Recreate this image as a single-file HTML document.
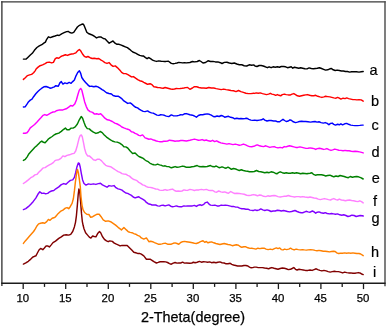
<!DOCTYPE html>
<html><head><meta charset="utf-8"><title>XRD</title>
<style>
html,body{margin:0;padding:0;background:#fff;}
svg{display:block;}
text{font-family:"Liberation Sans",Arial,sans-serif;fill:#000;}
</style></head><body>
<svg width="387" height="327" viewBox="0 0 387 327">
<rect x="0" y="0" width="387" height="327" fill="#ffffff"/>

<g stroke="#444444" stroke-width="1.45" fill="none">
<path d="M1.88 286 V1.2"/>
<path d="M1.2 1.85 H385.7" stroke="#383838"/>
<path d="M385.0 1.2 V286.2" stroke="#4e4e4e"/>
</g>
<g stroke="#1c1c1c" stroke-width="1.3" fill="none">
<path d="M1.2 283.35 H385.6" stroke-width="1.5"/>
<path d="M23.2 283.5 V289.1"/>
<path d="M65.7 283.5 V289.1"/>
<path d="M108.3 283.5 V289.1"/>
<path d="M150.8 283.5 V289.1"/>
<path d="M193.3 283.5 V289.1"/>
<path d="M235.9 283.5 V289.1"/>
<path d="M278.4 283.5 V289.1"/>
<path d="M320.9 283.5 V289.1"/>
<path d="M363.5 283.5 V289.1"/>
<path d="M44.5 283.5 V286.9"/>
<path d="M87.0 283.5 V286.9"/>
<path d="M129.5 283.5 V286.9"/>
<path d="M172.1 283.5 V286.9"/>
<path d="M214.6 283.5 V286.9"/>
<path d="M257.1 283.5 V286.9"/>
<path d="M299.7 283.5 V286.9"/>
<path d="M342.2 283.5 V286.9"/>
</g>
<text x="22.8" y="302.4" font-size="11.4" text-anchor="middle" stroke="#000" stroke-width="0.25">10</text>
<text x="65.3" y="302.4" font-size="11.4" text-anchor="middle" stroke="#000" stroke-width="0.25">15</text>
<text x="107.9" y="302.4" font-size="11.4" text-anchor="middle" stroke="#000" stroke-width="0.25">20</text>
<text x="150.4" y="302.4" font-size="11.4" text-anchor="middle" stroke="#000" stroke-width="0.25">25</text>
<text x="192.9" y="302.4" font-size="11.4" text-anchor="middle" stroke="#000" stroke-width="0.25">30</text>
<text x="235.5" y="302.4" font-size="11.4" text-anchor="middle" stroke="#000" stroke-width="0.25">35</text>
<text x="278.0" y="302.4" font-size="11.4" text-anchor="middle" stroke="#000" stroke-width="0.25">40</text>
<text x="320.5" y="302.4" font-size="11.4" text-anchor="middle" stroke="#000" stroke-width="0.25">45</text>
<text x="363.1" y="302.4" font-size="11.4" text-anchor="middle" stroke="#000" stroke-width="0.25">50</text>
<text x="193.0" y="322.2" font-size="14.4" text-anchor="middle" stroke="#000" stroke-width="0.25">2-Theta(degree)</text>
<polyline points="23.4,59.1 26.2,59.1 27.8,57.4 30.3,55.0 32.3,53.3 34.4,50.3 36.9,47.5 39.3,45.9 41.8,44.7 43.8,43.1 45.4,42.1 46.7,39.3 48.4,36.8 50.4,37.6 52.5,36.8 55.0,36.0 57.5,35.1 59.1,35.5 61.6,33.8 64.1,32.7 66.6,31.6 68.2,31.4 69.8,32.5 71.8,33.1 73.7,32.3 75.4,29.9 77.4,27.0 79.5,25.3 81.7,24.3 83.0,24.0 84.0,25.3 85.3,28.5 86.8,32.2 88.4,33.5 91.5,34.7 94.0,36.0 96.5,37.9 99.0,36.9 100.8,36.9 103.3,38.5 105.2,38.9 107.1,41.0 109.2,43.2 111.4,41.9 113.0,41.0 115.0,43.2 117.0,44.3 119.1,44.3 121.3,45.2 123.3,46.0 125.3,46.8 127.4,47.7 129.6,49.3 131.5,51.0 133.4,52.3 135.6,53.1 137.7,54.3 139.7,55.4 141.7,55.9 143.3,55.9 145.5,57.6 147.1,58.7 148.8,57.6 150.5,58.7 152.6,60.1 154.6,60.9 156.6,61.4 158.7,60.9 161.2,61.2 163.6,61.4 166.1,61.4 168.5,61.2 171.3,63.4 173.2,63.7 175.1,63.4 177.0,63.0 178.8,62.4 180.7,62.6 182.6,62.9 184.5,62.6 186.4,62.9 189.9,62.5 192.4,61.5 194.8,61.9 197.2,61.5 199.4,60.5 201.0,61.5 203.0,63.0 205.5,62.5 208.0,60.8 210.5,61.5 212.9,61.4 215.4,61.9 217.9,61.9 220.4,62.7 222.0,63.5 224.4,62.4 226.9,62.2 229.4,63.0 231.8,63.5 234.3,63.0 236.8,64.0 239.3,64.7 241.8,64.8 244.2,65.7 246.7,66.0 249.2,64.8 251.7,65.2 253.7,64.9 255.0,66.0 257.0,66.5 259.2,65.5 261.2,65.5 263.2,66.0 265.3,66.8 267.5,67.7 269.1,66.8 271.1,67.7 273.1,66.8 275.2,67.2 277.4,66.8 279.4,67.2 281.3,66.5 283.5,66.5 285.6,66.8 287.5,67.7 289.5,67.2 291.2,66.8 292.8,68.2 294.5,67.2 296.6,67.7 298.8,68.2 300.7,67.7 302.7,68.2 304.9,68.8 307.0,68.9 309.1,67.9 311.3,68.5 313.4,68.8 315.4,68.5 317.3,68.2 319.4,67.7 321.6,68.5 323.6,69.3 325.6,70.1 327.7,69.8 329.9,68.8 331.5,68.5 333.2,69.8 335.2,70.5 337.1,70.1 339.3,70.5 341.4,71.0 343.4,71.0 345.4,71.5 347.5,71.5 349.6,72.1 351.6,71.8 354.1,71.8 356.5,71.8 359.0,72.1 361.2,71.8 363.2,71.5" fill="none" stroke="#000000" stroke-width="1.45" stroke-linejoin="round" stroke-linecap="round"/>
<polyline points="23.4,79.4 25.3,77.7 27.5,75.6 29.6,74.9 31.6,74.4 33.6,72.8 35.3,70.6 36.1,69.0 37.8,67.4 40.1,65.7 42.6,64.9 45.1,63.6 47.1,62.4 49.2,62.1 51.7,62.9 53.4,62.4 55.3,58.6 56.7,57.8 58.8,58.2 60.9,56.5 62.9,55.7 65.4,54.8 67.5,55.4 69.5,54.5 71.6,54.0 73.7,53.7 75.9,52.8 77.8,50.6 79.4,49.5 81.0,51.3 82.5,54.0 84.3,56.3 86.0,57.2 87.9,56.5 90.1,57.7 92.2,58.5 94.2,58.2 96.7,58.8 98.8,58.5 100.7,59.8 102.7,61.0 104.9,62.6 107.0,63.4 109.0,62.6 111.0,64.8 113.1,66.4 115.3,65.9 117.3,67.6 119.7,70.1 120.6,71.1 121.6,72.4 123.6,73.6 125.8,73.6 127.9,74.6 129.9,75.8 131.5,76.9 133.4,76.6 135.6,78.2 137.7,79.6 139.7,80.7 141.7,81.2 143.8,82.4 146.0,83.5 147.6,84.3 150.1,83.7 152.0,84.7 153.9,86.7 155.7,87.0 157.6,87.5 159.5,87.6 161.4,88.0 163.2,88.2 165.1,87.5 167.0,88.0 168.8,88.5 170.7,89.0 172.6,89.3 174.5,89.0 176.3,88.5 178.2,88.6 180.1,88.5 182.0,88.3 183.9,88.0 185.7,87.6 187.6,87.5 189.9,89.3 192.4,88.0 194.4,86.7 196.7,86.7 198.9,87.5 201.4,88.0 203.8,88.0 206.3,88.3 208.8,87.5 211.3,88.0 213.8,88.0 216.2,88.6 218.7,89.1 221.2,89.6 223.7,89.1 226.1,89.6 228.5,90.0 231.0,90.5 233.5,90.8 236.0,91.6 238.5,90.5 240.9,91.6 243.4,92.4 245.9,93.3 248.4,93.6 250.9,93.6 253.7,93.3 254.7,93.4 256.2,92.9 258.2,93.3 260.3,92.9 262.5,93.6 264.5,94.1 266.5,94.6 268.6,94.1 270.3,93.3 271.9,94.1 274.1,94.6 275.7,95.3 277.4,94.6 279.0,95.3 280.7,95.8 282.3,94.6 284.3,94.1 286.2,94.6 288.3,94.9 290.5,94.9 292.1,94.1 293.8,93.6 295.5,94.6 297.4,95.8 299.4,96.3 301.6,95.8 303.7,95.3 305.7,94.9 307.5,94.6 309.6,95.3 311.8,95.8 313.8,95.8 315.7,95.3 317.8,96.3 319.9,96.9 321.9,97.4 323.9,96.9 325.6,96.3 327.7,96.6 329.9,96.9 331.8,97.4 333.8,97.9 336.0,98.2 337.6,97.4 339.3,98.2 340.9,99.1 343.1,98.2 345.1,98.6 346.7,97.9 348.6,98.6 350.8,99.1 352.9,99.6 354.9,99.6 356.9,99.9 359.0,99.6 361.2,99.9 363.2,101.2" fill="none" stroke="#ff0000" stroke-width="1.45" stroke-linejoin="round" stroke-linecap="round"/>
<polyline points="23.4,107.0 25.3,106.7 27.0,104.2 28.6,101.7 30.3,100.1 32.0,99.2 33.6,96.7 35.8,93.8 37.9,91.5 39.8,89.8 41.8,88.2 43.9,86.8 46.1,86.5 48.1,87.2 50.0,88.2 52.2,87.7 54.3,86.8 55.8,85.7 58.3,86.3 59.9,82.9 61.3,81.6 62.9,84.1 64.9,82.9 67.0,83.6 69.2,82.4 71.1,83.3 72.7,81.6 74.4,80.0 76.0,75.8 77.7,72.5 79.4,70.7 80.7,73.4 81.8,77.5 83.5,80.0 85.6,82.4 87.6,84.6 89.6,86.4 91.7,86.3 93.9,86.8 95.9,86.3 97.9,86.9 100.0,88.2 102.1,89.6 104.0,90.7 106.5,92.7 109.0,93.5 111.5,94.0 113.1,95.5 115.6,96.2 118.1,96.2 119.7,97.2 121.4,98.3 123.9,100.9 125.8,102.1 127.7,103.4 130.2,102.9 132.0,104.2 133.8,105.9 135.7,107.3 137.6,107.9 139.5,109.3 141.3,110.4 143.2,111.4 145.1,111.6 147.6,110.9 149.5,112.1 151.4,112.9 153.2,113.1 155.1,114.1 157.0,115.1 158.9,115.4 160.7,114.7 162.5,114.9 164.4,115.3 166.3,116.1 168.8,116.6 171.3,114.9 173.2,115.7 175.1,115.9 177.0,115.8 178.8,115.4 180.7,114.7 182.6,114.9 184.5,113.8 186.4,113.6 189.9,114.8 192.4,115.2 194.4,116.0 196.4,117.2 198.4,115.5 200.5,114.8 202.7,114.8 204.7,114.3 207.2,113.9 209.3,114.3 211.3,115.2 213.3,116.5 214.9,116.8 217.1,116.0 219.2,116.5 221.2,115.5 222.9,116.0 224.7,117.2 226.4,116.8 228.5,116.3 230.7,117.3 232.7,117.7 234.7,118.8 236.8,118.2 239.0,118.8 240.9,118.5 242.9,118.8 245.1,118.5 246.7,118.2 248.9,119.3 250.9,120.1 252.7,120.4 254.7,120.1 257.0,120.5 259.5,120.1 261.5,119.8 263.2,118.8 264.8,120.1 267.0,121.0 269.1,120.5 271.1,120.5 273.6,121.0 275.7,121.0 277.7,121.8 279.7,121.8 281.3,120.5 283.0,119.3 284.6,120.5 286.2,121.5 288.3,121.0 290.0,119.8 291.6,120.5 293.3,121.8 295.5,122.6 297.4,122.1 299.4,121.5 301.6,121.3 303.7,121.5 305.7,121.5 308.0,121.8 310.5,122.1 312.9,121.8 315.1,121.5 317.0,122.1 319.0,121.8 321.1,122.6 323.3,123.1 325.2,122.6 327.2,123.4 328.9,124.8 330.5,123.4 332.2,123.1 333.8,124.3 335.5,125.1 337.6,124.3 339.3,124.8 340.9,123.8 342.6,124.8 344.7,123.8 346.7,123.4 348.6,124.3 350.8,125.1 352.9,125.4 354.9,125.6 357.4,125.6 359.8,125.4 362.3,125.1 363.2,125.1" fill="none" stroke="#0000ff" stroke-width="1.45" stroke-linejoin="round" stroke-linecap="round"/>
<polyline points="23.4,133.2 25.3,133.2 27.0,132.8 28.6,130.7 30.3,127.9 32.4,126.2 34.6,124.5 36.8,122.2 38.8,120.0 40.9,117.8 43.1,115.3 44.7,114.6 46.7,115.3 48.9,114.1 51.0,112.9 53.0,112.0 55.0,111.8 56.3,110.7 59.6,109.9 62.9,109.9 66.2,108.8 68.7,107.1 70.7,105.5 72.7,106.1 74.7,104.1 76.4,100.0 78.0,94.2 79.3,90.1 80.7,88.4 81.8,90.1 83.0,95.0 84.6,101.7 86.3,106.6 87.9,109.9 90.1,111.6 92.6,112.4 94.5,114.1 96.7,113.7 98.8,114.4 100.7,113.7 102.7,115.7 104.9,118.2 107.3,119.8 109.8,120.3 112.3,121.5 114.8,123.1 117.3,124.0 119.7,125.3 121.8,127.0 123.9,127.9 125.8,128.6 127.7,129.2 129.5,129.9 131.4,131.7 133.2,132.1 135.1,133.4 137.0,134.1 138.8,135.4 140.7,135.7 142.6,134.9 145.1,137.9 147.0,138.5 148.9,139.2 150.7,138.9 152.6,139.7 154.5,140.3 156.4,141.0 158.2,141.4 160.1,141.7 162.0,141.7 163.8,141.2 165.7,141.2 167.6,141.0 169.5,140.2 171.3,140.5 173.2,140.8 175.1,141.2 177.0,140.9 178.8,141.0 180.7,140.5 182.6,140.5 184.5,140.7 186.4,141.0 189.9,140.3 192.4,139.6 194.4,139.1 196.4,139.6 198.4,140.3 200.5,140.0 202.2,139.6 204.3,140.5 206.3,140.0 208.3,140.8 210.5,141.3 212.6,140.3 214.6,141.6 216.6,140.8 218.7,142.0 220.9,142.9 222.9,143.3 224.7,143.6 226.9,144.1 229.0,143.6 231.0,144.1 233.0,144.6 235.2,144.1 237.3,144.6 239.3,145.3 241.3,144.9 243.4,144.1 245.6,144.9 247.6,145.8 249.5,146.6 251.7,146.7 253.8,146.3 255.9,145.3 257.5,144.9 259.5,145.8 261.5,146.3 263.6,146.6 265.8,145.8 267.8,146.6 269.8,147.4 271.9,146.9 274.1,146.6 276.0,147.4 278.0,147.9 280.2,147.4 282.3,147.9 284.3,146.6 286.0,146.9 287.8,146.3 289.5,145.8 291.6,146.3 293.8,146.9 295.8,147.4 297.8,147.4 299.9,146.9 302.1,147.4 304.0,147.9 306.0,148.4 308.0,148.2 310.1,147.9 312.1,148.2 314.1,148.6 315.7,149.4 317.3,148.6 319.4,148.2 321.6,148.7 323.6,149.4 325.2,149.1 326.9,148.6 328.9,149.6 331.0,150.4 332.7,149.9 334.8,149.1 336.8,149.6 338.8,150.2 340.9,150.4 343.1,150.7 345.1,150.4 347.1,150.7 349.1,150.7 351.3,151.2 353.2,151.5 355.2,151.2 357.4,151.5 359.5,151.9 361.5,152.4 363.2,152.9" fill="none" stroke="#ff00ff" stroke-width="1.45" stroke-linejoin="round" stroke-linecap="round"/>
<polyline points="23.4,160.4 25.3,159.3 27.0,157.1 28.6,154.3 30.8,151.7 32.9,149.4 34.9,147.2 36.9,145.6 39.0,143.4 40.6,141.8 41.8,141.1 43.4,142.3 45.1,142.8 46.7,141.1 48.4,139.0 50.0,137.8 52.2,136.5 54.3,134.8 55.8,134.0 58.8,133.1 61.3,131.4 63.7,129.3 65.4,128.1 67.0,129.8 69.2,129.8 71.1,128.1 73.1,128.1 75.2,126.9 77.4,124.0 79.3,119.8 81.3,116.5 82.6,118.2 84.0,122.3 85.6,126.4 87.3,128.6 89.3,128.9 91.2,130.6 93.4,132.2 95.9,133.4 98.1,132.8 100.2,131.5 102.2,132.6 104.0,134.7 106.5,137.1 108.7,138.7 110.1,139.6 112.3,141.0 114.8,141.9 117.3,142.1 119.7,143.2 121.8,144.6 123.9,146.7 125.8,146.9 127.7,148.0 130.2,151.0 132.6,153.5 135.1,153.0 137.6,155.5 139.5,156.8 141.3,157.5 143.2,158.4 145.1,160.0 146.4,160.8 148.2,161.7 150.1,163.3 152.0,164.2 153.9,164.8 155.7,164.9 157.6,164.1 159.5,164.9 161.4,165.3 163.2,166.1 165.1,165.8 167.0,166.6 168.8,166.6 171.3,167.8 173.2,167.2 175.1,166.6 177.0,167.3 178.8,167.1 180.7,166.6 182.6,166.1 184.5,166.5 186.4,167.3 189.9,167.2 191.9,166.8 193.9,166.5 195.6,166.0 197.2,165.5 198.9,166.5 201.0,166.8 203.0,166.5 205.0,166.8 207.2,166.5 208.8,166.0 210.5,165.5 212.1,166.5 214.3,166.8 216.2,166.0 218.2,167.2 219.9,167.7 222.0,166.8 224.2,167.7 226.1,168.2 228.0,167.2 229.7,168.2 231.4,169.3 233.5,168.5 235.7,169.0 237.6,169.8 239.3,170.5 241.3,169.8 243.4,170.5 245.6,171.0 247.6,171.3 249.5,171.8 252.2,171.8 254.3,171.5 256.5,170.5 258.7,171.5 260.8,171.8 262.8,172.2 264.8,172.7 267.0,172.2 269.1,172.7 271.1,171.8 273.1,172.2 275.2,173.2 276.9,173.8 278.5,172.7 280.2,171.8 282.3,172.7 284.3,173.2 286.2,172.7 288.3,173.2 290.5,173.2 292.5,172.7 294.5,173.2 296.6,172.7 298.8,173.2 300.7,173.8 302.7,173.2 304.9,173.5 307.0,173.8 308.0,173.5 310.1,173.2 311.8,172.7 313.4,174.3 315.4,175.2 317.3,174.8 319.4,174.8 321.6,174.7 323.6,175.2 325.6,176.0 327.7,175.5 329.9,175.2 331.8,176.0 333.8,176.8 336.0,176.0 338.1,176.5 340.1,175.5 342.1,176.0 344.2,176.5 346.4,177.2 348.3,177.7 350.3,176.5 352.4,177.2 354.6,176.8 356.5,176.5 358.5,176.8 360.7,177.7 362.3,178.5 363.2,179.0" fill="none" stroke="#008000" stroke-width="1.45" stroke-linejoin="round" stroke-linecap="round"/>
<polyline points="23.4,183.5 25.8,181.9 28.3,179.9 30.8,177.7 32.9,176.6 34.9,174.9 36.9,174.4 39.0,172.0 41.1,170.1 43.1,167.9 45.1,167.6 47.2,166.2 49.4,164.9 51.4,163.8 53.3,162.6 55.0,160.6 56.3,160.1 58.8,159.7 60.9,158.4 62.9,155.9 64.9,156.7 67.0,155.4 69.5,154.8 71.9,153.8 74.1,153.4 75.7,151.0 77.4,145.2 79.0,138.6 80.2,135.6 81.3,134.9 82.3,136.9 83.5,142.7 84.6,148.5 86.0,153.4 87.6,155.9 89.3,155.9 91.2,157.6 93.4,159.7 95.5,160.4 97.5,159.2 99.5,159.2 101.6,160.9 103.7,163.4 105.7,165.3 108.2,166.3 110.6,166.7 113.1,168.3 115.6,170.0 118.1,171.6 120.1,172.4 122.0,173.6 123.9,174.1 125.8,174.2 127.7,175.4 129.5,176.1 131.4,177.9 133.2,179.3 135.1,179.9 137.0,180.7 138.8,182.4 140.7,183.4 142.6,184.9 144.5,185.4 146.4,186.6 148.2,187.2 150.1,187.4 152.0,187.8 153.9,188.4 155.7,189.0 157.6,189.1 159.5,190.1 161.4,190.4 163.2,190.2 165.1,189.6 167.0,190.2 168.8,189.9 170.7,189.5 172.6,189.1 174.5,190.5 176.3,191.2 178.2,191.0 180.1,191.2 182.0,191.0 183.9,189.9 185.7,190.3 187.6,190.4 189.9,189.4 192.4,189.9 194.4,190.5 196.4,189.9 198.9,189.9 201.4,189.4 203.8,189.9 206.3,189.4 208.3,190.2 210.5,190.5 212.9,190.5 214.9,191.9 216.6,192.2 218.7,191.0 220.9,191.9 222.9,192.2 224.7,191.9 226.9,192.7 228.5,193.2 230.7,191.5 232.7,192.7 234.7,193.5 236.8,193.2 239.3,193.5 241.8,193.9 244.2,194.3 246.7,195.2 248.9,195.5 250.9,195.2 253.3,194.6 255.4,195.0 257.5,195.8 259.5,195.0 261.5,195.3 263.6,196.3 265.8,196.6 267.8,195.8 269.8,196.3 271.9,195.8 274.1,195.5 276.0,195.8 278.0,196.6 280.2,197.0 282.3,196.6 284.3,196.3 286.2,196.3 288.3,195.5 290.5,196.3 292.5,196.6 294.5,197.0 296.6,196.6 298.8,196.6 300.7,197.0 302.7,196.6 304.9,197.0 307.0,197.3 308.0,197.5 310.1,197.0 312.1,197.5 314.1,198.0 316.2,198.3 318.3,199.1 320.3,199.6 322.3,199.1 324.4,198.6 326.6,199.1 328.5,199.6 330.5,200.0 332.2,199.1 333.8,198.6 336.0,199.6 337.6,200.0 339.3,199.1 341.4,200.0 343.4,200.3 345.4,200.8 347.5,200.3 349.6,200.0 351.6,200.5 353.6,200.8 355.7,201.3 357.9,201.6 359.8,200.8 361.5,201.6 363.2,202.9" fill="none" stroke="#ff80ff" stroke-width="1.45" stroke-linejoin="round" stroke-linecap="round"/>
<polyline points="23.4,209.6 25.8,208.6 28.3,206.7 30.8,204.2 33.3,201.4 35.8,198.1 37.9,194.3 39.8,191.8 41.8,193.4 43.9,193.1 45.6,193.8 47.7,193.4 49.7,191.8 51.4,191.0 53.8,190.5 55.8,188.8 58.8,186.9 61.3,184.6 63.7,183.6 66.0,184.2 68.1,182.3 70.4,180.4 72.7,179.9 74.4,177.4 75.7,172.4 77.0,166.7 78.3,163.0 79.3,163.4 80.3,167.5 81.3,173.3 82.6,179.9 84.0,183.5 86.0,185.1 88.4,183.9 90.9,184.4 93.4,183.9 95.9,184.4 98.3,183.6 100.5,183.3 102.4,184.9 104.9,186.1 107.0,187.2 109.0,185.6 111.5,186.1 114.0,185.6 115.9,187.7 118.1,188.9 120.1,189.4 122.0,190.1 123.9,191.7 125.8,193.0 127.7,193.4 129.5,194.4 131.4,195.4 133.2,197.0 135.1,197.9 137.0,197.2 138.8,196.7 140.7,198.2 142.6,199.2 144.5,200.3 146.4,202.4 148.2,203.7 150.1,204.2 152.0,205.0 153.9,204.9 155.7,205.0 157.6,205.9 159.5,206.1 161.4,205.4 163.2,205.2 165.1,205.9 167.0,205.4 168.8,204.9 170.7,206.2 172.6,206.7 174.5,206.4 176.3,205.9 178.2,206.5 180.1,206.7 182.0,206.7 183.9,205.9 185.7,206.1 187.6,205.9 189.9,205.9 192.4,205.9 194.4,205.4 196.4,206.4 198.4,205.1 200.0,204.8 201.7,205.4 203.8,204.3 205.5,202.6 207.2,202.1 208.8,203.8 210.5,205.1 212.9,205.4 214.9,205.1 217.1,205.9 219.2,205.9 221.2,205.1 223.2,205.4 225.2,205.1 227.4,205.4 229.4,205.9 231.4,206.4 233.5,206.4 235.7,207.1 237.6,207.1 239.6,208.1 241.8,208.7 243.9,208.7 245.9,209.2 247.9,209.2 250.0,210.1 252.2,210.4 253.7,210.4 255.0,209.9 257.0,210.5 259.2,209.9 260.8,208.9 262.8,209.9 264.8,210.5 267.0,209.9 269.1,210.5 271.1,211.5 273.1,211.0 275.2,211.0 277.4,210.2 279.4,210.5 281.3,211.0 283.5,210.5 285.6,211.0 287.5,211.5 289.5,211.9 291.6,211.5 293.3,211.0 295.0,210.5 297.1,211.5 299.1,212.2 301.1,212.7 302.7,212.7 304.9,211.9 306.5,211.3 308.0,211.9 310.1,212.2 312.4,211.0 314.1,211.9 315.7,213.2 317.3,212.2 319.0,211.9 321.1,212.7 323.3,213.2 325.2,212.7 327.2,213.5 329.4,213.9 331.5,213.5 333.5,213.9 335.5,214.3 337.6,213.9 339.8,214.8 341.8,215.2 343.7,214.8 345.9,215.5 347.9,216.5 349.9,216.0 351.9,215.2 354.1,215.5 356.2,216.5 358.2,216.0 360.2,215.5 362.3,215.7 363.2,216.0" fill="none" stroke="#8000ff" stroke-width="1.45" stroke-linejoin="round" stroke-linecap="round"/>
<polyline points="23.4,264.1 25.8,262.9 28.3,261.3 30.8,259.1 32.9,257.0 34.6,256.3 35.9,255.8 37.4,253.0 39.0,250.0 40.6,248.4 42.8,249.7 44.4,248.0 46.1,245.9 47.7,245.9 49.4,247.0 51.0,245.1 53.0,242.6 55.5,241.1 58.8,238.4 61.3,236.8 63.7,235.1 66.2,234.8 68.7,235.1 70.7,234.3 72.7,231.5 74.4,226.9 75.5,222.3 76.4,215.8 77.4,204.6 78.2,194.5 78.9,189.0 79.7,191.3 80.6,201.8 81.5,213.4 82.3,221.3 83.1,225.3 84.0,228.8 85.6,232.7 87.6,235.1 89.3,237.1 90.9,238.1 92.6,236.0 94.2,236.5 95.9,236.8 97.9,233.2 99.5,231.6 100.7,232.7 102.4,236.5 104.4,239.3 106.5,240.9 108.2,241.7 109.8,240.9 112.3,241.4 114.3,243.1 116.4,244.2 118.6,245.1 120.1,245.9 122.0,245.4 123.9,245.4 127.2,245.4 130.2,248.4 132.0,250.2 133.8,252.2 135.7,252.8 137.6,253.4 139.5,253.4 141.3,254.2 143.8,255.9 146.4,259.2 148.2,259.3 150.1,259.2 152.0,260.3 153.9,261.7 156.4,263.0 158.2,262.4 160.1,261.7 162.0,261.6 163.8,261.7 165.7,261.9 167.6,262.5 169.5,263.6 171.3,264.2 173.2,263.1 175.1,262.5 177.0,263.1 178.8,263.0 180.7,263.0 182.6,262.2 184.5,263.1 186.4,263.0 189.9,263.3 191.9,263.0 193.4,262.2 195.1,262.7 197.2,262.2 199.4,261.4 201.4,262.2 203.4,261.7 205.5,261.9 207.7,262.2 209.6,261.9 211.6,262.7 213.8,262.2 215.9,262.7 217.9,262.2 219.9,261.9 222.0,262.7 224.2,263.0 226.1,263.8 228.0,263.8 230.2,263.3 231.8,264.3 233.5,265.0 235.7,265.5 237.6,266.0 239.6,266.0 241.8,266.0 243.9,265.5 245.9,265.5 247.9,266.0 249.5,267.1 251.2,267.8 252.8,267.6 254.3,267.1 256.2,267.1 258.2,267.6 260.3,267.6 262.5,267.6 264.5,268.0 266.5,268.3 268.6,268.8 270.3,268.0 271.9,267.6 274.1,268.3 276.0,268.8 278.0,269.3 280.2,268.5 282.3,268.0 284.3,268.3 286.2,268.8 288.3,269.6 290.5,269.3 292.1,268.5 293.8,267.6 295.5,269.3 297.1,270.0 299.1,269.3 301.1,269.6 303.2,270.0 305.4,270.4 308.0,270.4 310.1,270.0 312.1,270.4 314.1,269.6 316.2,268.8 317.8,269.6 319.9,270.4 321.9,270.9 323.9,270.4 326.1,270.9 328.2,271.6 330.2,272.1 332.2,271.6 334.3,271.3 336.5,271.6 338.5,271.6 340.4,272.1 342.6,272.9 344.7,272.1 346.7,272.6 348.6,272.9 350.8,272.9 352.9,273.3 354.9,273.3 356.9,272.9 358.5,272.6 360.7,273.3 362.3,274.3 363.2,274.6" fill="none" stroke="#800000" stroke-width="1.45" stroke-linejoin="round" stroke-linecap="round"/>
<polyline points="23.4,243.4 25.3,240.9 27.5,238.4 29.6,236.0 31.6,233.8 33.6,231.5 35.3,228.9 36.9,226.0 38.6,223.9 40.6,223.2 42.8,222.7 44.7,223.2 46.7,221.6 48.4,219.4 50.0,220.3 52.2,218.3 53.8,217.8 55.5,216.8 58.3,213.4 60.4,211.4 62.9,210.1 65.4,208.1 67.0,207.6 68.7,208.7 70.2,206.7 72.1,203.4 73.4,198.5 74.5,190.2 75.4,181.8 76.1,176.8 76.9,171.3 77.5,169.5 78.4,172.8 79.5,180.3 80.3,186.9 81.0,196.8 82.0,205.1 83.0,209.7 84.6,212.5 86.8,214.2 88.9,214.5 90.7,217.3 92.7,216.7 94.8,215.3 97.2,214.2 99.2,214.2 101.1,216.7 103.2,219.8 105.7,221.3 108.2,220.9 110.6,221.7 113.1,223.3 115.6,225.1 118.1,227.3 120.1,228.8 121.4,229.9 123.9,227.4 126.4,229.9 128.3,231.7 130.2,232.4 132.0,232.7 133.8,233.6 135.7,234.2 137.6,235.4 139.5,236.1 141.3,237.9 143.8,239.1 146.4,237.9 148.9,241.7 150.7,241.2 152.6,241.7 154.5,242.6 156.4,243.4 158.2,244.2 160.1,244.2 162.0,243.9 163.8,243.4 165.7,243.3 167.6,244.2 169.5,244.3 171.3,244.2 173.2,243.3 175.1,242.9 177.0,243.5 178.8,244.2 180.7,242.5 182.6,241.7 184.5,241.4 186.4,241.7 189.9,242.3 192.4,242.8 194.4,243.2 196.4,243.5 198.4,242.8 200.0,241.9 201.7,241.2 203.0,240.7 204.7,242.3 206.3,241.5 208.0,242.8 209.6,242.3 211.6,241.9 213.8,242.8 215.9,243.5 217.9,244.0 219.9,244.5 222.0,244.0 224.2,243.5 226.1,244.0 228.0,244.5 230.2,244.8 232.3,245.7 234.3,245.2 236.3,244.8 238.5,245.2 240.1,246.5 241.8,247.3 243.9,246.8 245.9,246.8 247.9,247.8 250.0,248.4 251.7,248.2 253.8,248.6 255.9,249.1 257.9,248.2 259.8,248.6 262.0,248.2 264.1,248.2 266.1,249.1 268.1,249.6 270.3,249.1 272.4,249.6 274.4,248.6 276.4,247.9 278.0,248.6 279.7,247.9 281.3,249.6 283.0,249.9 284.6,249.1 286.7,249.6 288.8,249.1 290.5,248.2 292.1,249.1 294.1,249.9 296.1,249.1 298.3,249.6 300.4,249.9 302.4,249.6 304.4,249.9 306.5,250.1 308.0,249.9 310.5,249.6 312.9,249.9 315.1,250.4 317.0,250.7 319.0,250.4 321.1,250.7 323.3,251.2 325.2,251.2 327.2,251.5 329.4,251.9 331.5,251.5 333.5,251.2 335.2,251.5 336.8,252.9 338.5,253.5 340.4,253.2 342.6,253.2 344.7,252.9 346.7,253.2 348.6,252.9 350.8,253.2 352.9,252.9 354.9,253.2 356.9,253.5 359.0,253.5 360.7,254.0 363.2,255.7" fill="none" stroke="#ff8000" stroke-width="1.45" stroke-linejoin="round" stroke-linecap="round"/>
<text x="369.4" y="75" font-size="14.5" stroke="#000" stroke-width="0.2">a</text>
<text x="371" y="106.3" font-size="14.5" stroke="#000" stroke-width="0.2">b</text>
<text x="371.6" y="130.3" font-size="14.5" stroke="#000" stroke-width="0.2">c</text>
<text x="371.5" y="157.4" font-size="14.5" stroke="#000" stroke-width="0.2">d</text>
<text x="371.8" y="182.9" font-size="14.5" stroke="#000" stroke-width="0.2">e</text>
<text x="373" y="205.9" font-size="14.5" stroke="#000" stroke-width="0.2">f</text>
<text x="371.4" y="223.1" font-size="14.5" stroke="#000" stroke-width="0.2">g</text>
<text x="371" y="256.65" font-size="14.5" stroke="#000" stroke-width="0.2">h</text>
<text x="373.1" y="277.4" font-size="14.5" stroke="#000" stroke-width="0.2">i</text>
</svg></body></html>
